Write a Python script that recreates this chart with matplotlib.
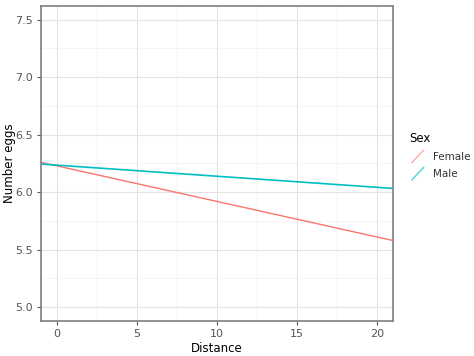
import numpy as np
import matplotlib.pyplot as plt
from matplotlib.lines import Line2D
from matplotlib.legend_handler import HandlerLine2D

# fitted lines, read at the ends of the panel
distance = [-1.0, 21.0]
female = [6.26, 5.58]
male = [6.245, 6.033]
sexes = ['Female', 'Male']
colors = {'Female': '#F8766D', 'Male': '#00BFC4'}


class DiagonalHandler(HandlerLine2D):
    def create_artists(self, legend, orig_handle, xdescent, ydescent,
                       width, height, fontsize, trans):
        line = Line2D([0.15 * width - xdescent, 0.85 * width - xdescent],
                      [-ydescent - 0.35 * height, height * 1.35 - ydescent],
                      color=orig_handle.get_color(), lw=orig_handle.get_linewidth(),
                      alpha=0.6)
        line.set_transform(trans)
        return [line]


fig = plt.figure(figsize=(4.74, 3.56), dpi=100)
ax = fig.add_axes([0.0865, 0.0983, 0.7425, 0.885])

ax.plot(distance, female, color=colors['Female'], lw=1.0, label='Female')
ax.plot(distance, male, color=colors['Male'], lw=1.2, label='Male')

ax.set_xlim(-1.0, 21.0)
ax.set_ylim(4.88, 7.62)
ax.set_xticks([0, 5, 10, 15, 20])
ax.set_yticks([5.0, 5.5, 6.0, 6.5, 7.0, 7.5])
ax.set_yticklabels(['5.0', '5.5', '6.0', '6.5', '7.0', '7.5'])
ax.set_xticks([2.5, 7.5, 12.5, 17.5], minor=True)
ax.set_yticks([5.25, 5.75, 6.25, 6.75, 7.25], minor=True)
ax.grid(which='major', color='#E3E3E3', lw=0.8)
ax.grid(which='minor', color='#F0F0F0', lw=0.5)
ax.set_axisbelow(True)
ax.tick_params(which='major', length=3, width=0.8, color='#555555',
               labelcolor='#555555', labelsize=8, pad=3)
ax.tick_params(which='minor', length=0)
for s in ax.spines.values():
    s.set_color('#7F7F7F')
    s.set_linewidth(1.2)

ax.set_xlabel('Distance', fontsize=8.5)
ax.set_ylabel('Number eggs', fontsize=8.5)
ax.xaxis.set_label_coords(0.5, -0.068)
ax.yaxis.set_label_coords(-0.071, 0.5)

leg = ax.legend(title='Sex', loc='center left', bbox_to_anchor=(1.02, 0.525),
                frameon=False, fontsize=7.5, title_fontsize=8.5,
                handler_map={Line2D: DiagonalHandler()},
                handlelength=1.6, handletextpad=0.7, labelspacing=0.7)
leg._legend_box.align = 'left'
for t in leg.get_texts():
    t.set_color('#333333')

fig.savefig('out.png', dpi=100)
